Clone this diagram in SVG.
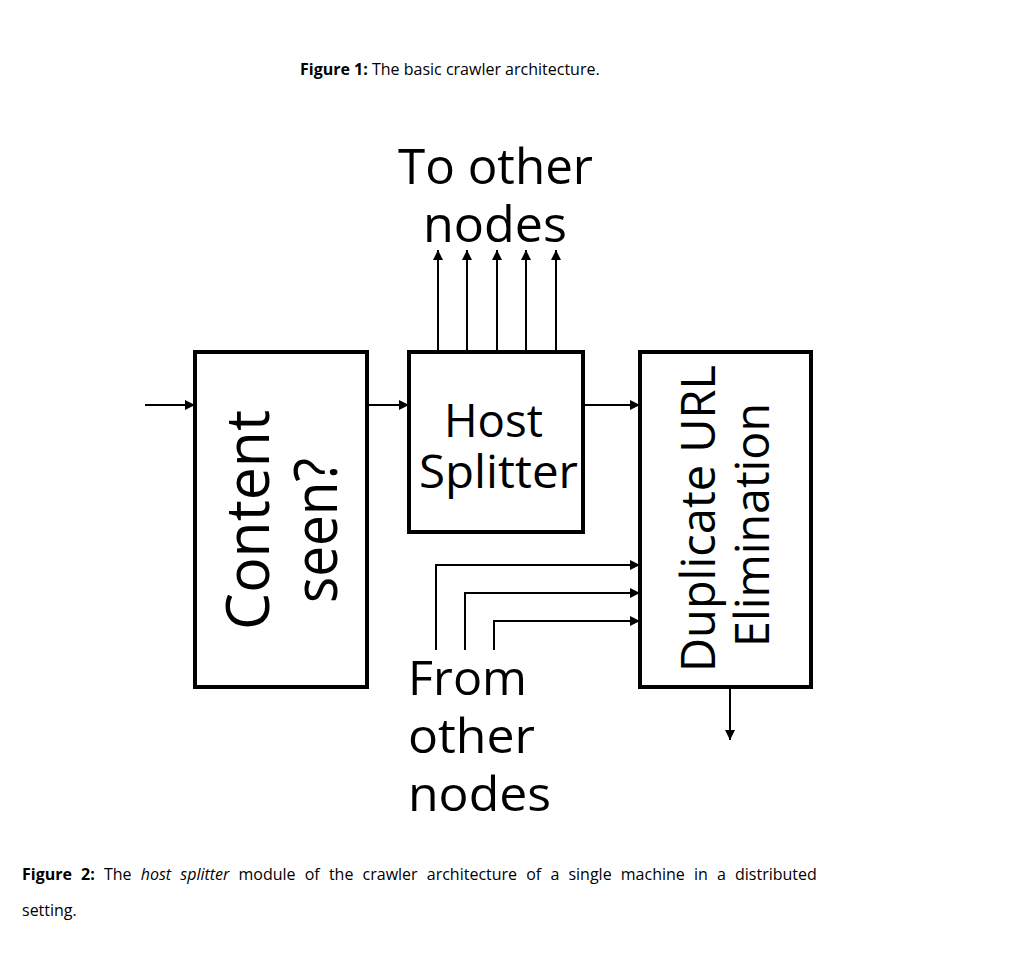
<svg xmlns="http://www.w3.org/2000/svg" width="1024" height="953" viewBox="0 0 1024 953">
<defs>
<marker id="ah" viewBox="0 0 10 10" refX="10" refY="5" markerWidth="5" markerHeight="5" orient="auto"><path d="M0,0L10,5L0,10z" fill="#000"/></marker>
<style>
.box{fill:#fff;stroke:#000;stroke-width:4}
.ln{fill:none;stroke:#000;stroke-width:2;marker-end:url(#ah)}
.big{font-family:"Open Sans","Noto Sans",sans-serif;fill:#000}
.cap{font-family:"Open Sans","Noto Sans",sans-serif;font-size:16px;fill:#000}
</style>
</defs>
<rect width="1024" height="953" fill="#fff"/>
<text class="cap" x="300" y="75"><tspan font-weight="bold">Figure 1:</tspan> The basic crawler architecture.</text>
<g id="connectors">
<path class="ln" d="M145,405H195"/>
<path class="ln" d="M367,405H409"/>
<path class="ln" d="M583,405H640"/>
<path class="ln" d="M438,352V250"/>
<path class="ln" d="M467,352V250"/>
<path class="ln" d="M497,352V250"/>
<path class="ln" d="M526,352V250"/>
<path class="ln" d="M556,352V250"/>
<path class="ln" d="M436,650V565H640"/>
<path class="ln" d="M465,650V593H640"/>
<path class="ln" d="M494,650V621H640"/>
<path class="ln" d="M730,687V740"/>
</g>
<g id="content-seen">
<rect class="box" x="195" y="352" width="172" height="335"/>
<text class="big" font-size="60" transform="translate(269,630) rotate(-90)" textLength="220" lengthAdjust="spacingAndGlyphs">Content</text>
<text class="big" font-size="60" transform="translate(337,603) rotate(-90)" textLength="145" lengthAdjust="spacingAndGlyphs">seen?</text>
</g>
<g id="host-splitter">
<rect class="box" x="409" y="352" width="174" height="180"/>
<text class="big" font-size="46" x="444" y="437" textLength="99" lengthAdjust="spacingAndGlyphs">Host</text>
<text class="big" font-size="46" x="419" y="488" textLength="159" lengthAdjust="spacingAndGlyphs">Splitter</text>
</g>
<g id="dup-elim">
<rect class="box" x="640" y="352" width="171" height="335"/>
<text class="big" font-size="47" transform="translate(715,672) rotate(-90)" textLength="307" lengthAdjust="spacingAndGlyphs">Duplicate URL</text>
<text class="big" font-size="47" transform="translate(769,647) rotate(-90)" textLength="244" lengthAdjust="spacingAndGlyphs">Elimination</text>
</g>
<g id="to-other">
<text class="big" font-size="50" x="398" y="184" textLength="195" lengthAdjust="spacingAndGlyphs">To other</text>
<text class="big" font-size="50" x="423" y="242" textLength="144" lengthAdjust="spacingAndGlyphs">nodes</text>
</g>
<g id="from-other">
<text class="big" font-size="48" x="408" y="695" textLength="119" lengthAdjust="spacingAndGlyphs">From</text>
<text class="big" font-size="48" x="408" y="753" textLength="127" lengthAdjust="spacingAndGlyphs">other</text>
<text class="big" font-size="48" x="408" y="811" textLength="143" lengthAdjust="spacingAndGlyphs">nodes</text>
</g>
<text class="cap" x="22" y="880" word-spacing="5"><tspan font-weight="bold">Figure 2:</tspan> The <tspan font-style="italic">host splitter</tspan> module of the crawler architecture of a single machine in a distributed</text>
<text class="cap" x="22" y="916">setting.</text>
</svg>
